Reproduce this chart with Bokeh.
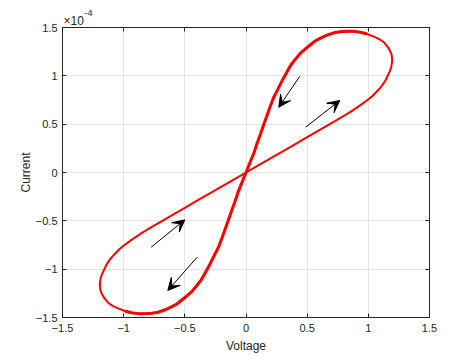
from bokeh.plotting import figure
from bokeh.models import (Range1d, LinearAxis, FixedTicker, Arrow, VeeHead,
                          ColumnDataSource, Title)
from bokeh.embed import file_html
from bokeh.resources import INLINE

# ---- data (voltage in V, current in units of 1e-4 A) ----
v_upper = [0.0, 0.1, 0.2, 0.3, 0.4, 0.5, 0.6, 0.677, 0.773, 0.854,
           0.936, 1.004, 1.038, 1.067, 1.097, 1.122, 1.143, 1.159, 1.175, 1.187,
           1.193, 1.195, 1.19, 1.176, 1.155, 1.127, 1.09, 1.045, 0.99, 0.936,
           0.88, 0.827, 0.77, 0.718, 0.66, 0.609, 0.565, 0.527, 0.486, 0.446,
           0.405, 0.364, 0.33, 0.296, 0.262, 0.227, 0.2, 0.173, 0.146, 0.119,
           0.09, 0.064, 0.03, 0.0]
i_upper = [0.0, 0.073, 0.146, 0.219, 0.292, 0.365, 0.438, 0.495, 0.565, 0.627,
           0.697, 0.760, 0.797, 0.835, 0.875, 0.917, 0.96, 1.003, 1.046, 1.089,
           1.132, 1.176, 1.22, 1.262, 1.305, 1.347, 1.38, 1.406, 1.433, 1.451,
           1.46, 1.461, 1.455, 1.445, 1.42, 1.39, 1.36, 1.322, 1.28, 1.235,
           1.175, 1.107, 1.03, 0.951, 0.865, 0.779, 0.69, 0.595, 0.50, 0.40,
           0.30, 0.2, 0.095, 0.0]
v_lower = [0.0, -0.1, -0.2, -0.3, -0.4, -0.5, -0.6, -0.677, -0.773, -0.854,
           -0.936, -1.004, -1.038, -1.067, -1.097, -1.122, -1.143, -1.159, -1.175, -1.187,
           -1.193, -1.195, -1.19, -1.176, -1.155, -1.127, -1.09, -1.045, -0.99, -0.936,
           -0.88, -0.827, -0.77, -0.718, -0.66, -0.609, -0.565, -0.527, -0.486, -0.446,
           -0.405, -0.364, -0.33, -0.296, -0.262, -0.227, -0.2, -0.173, -0.146, -0.119,
           -0.09, -0.064, -0.03, 0.0]
i_lower = [0.0, -0.073, -0.146, -0.219, -0.292, -0.365, -0.438, -0.495, -0.565, -0.627,
           -0.697, -0.760, -0.797, -0.835, -0.875, -0.917, -0.96, -1.003, -1.046, -1.089,
           -1.132, -1.176, -1.22, -1.262, -1.305, -1.347, -1.38, -1.406, -1.433, -1.451,
           -1.46, -1.461, -1.455, -1.445, -1.42, -1.39, -1.36, -1.322, -1.28, -1.235,
           -1.175, -1.107, -1.03, -0.951, -0.865, -0.779, -0.69, -0.595, -0.50, -0.40,
           -0.30, -0.2, -0.095, 0.0]
thick_from = 28  # the steep (ON-state) branch is drawn heavier

arrow_x0 = [0.44, 0.487, -0.775, -0.399]
arrow_y0 = [0.996, 0.468, -0.772, -0.876]
arrow_x1 = [0.268, 0.767, -0.50, -0.639]
arrow_y1 = [0.675, 0.745, -0.49, -1.22]

tick_values = [-1.5, -1.0, -0.5, 0.0, 0.5, 1.0, 1.5]

FONT = "Liberation Sans"
AX = "#262626"

p = figure(width=474, height=355, output_backend="svg", toolbar_location=None,
           x_range=Range1d(-1.5, 1.5), y_range=Range1d(-1.5, 1.5),
           min_border_left=62, min_border_right=45, min_border_top=27,
           min_border_bottom=38, background_fill_color="white",
           border_fill_color="white")
p.outline_line_color = AX
p.outline_line_width = 1

p.xaxis.ticker = FixedTicker(ticks=tick_values)
p.yaxis.ticker = FixedTicker(ticks=tick_values)
p.xaxis.axis_label = "Voltage"
p.yaxis.axis_label = "Current"
for ax in [p.xaxis[0], p.yaxis[0]]:
    ax.major_tick_in = 4
    ax.major_tick_out = 0
    ax.minor_tick_line_color = None
    ax.axis_line_color = AX
    ax.major_tick_line_color = AX
    ax.major_label_text_font = FONT
    ax.major_label_text_font_size = "11px"
    ax.major_label_text_color = AX
    ax.axis_label_text_font = FONT
    ax.axis_label_text_font_size = "12px"
    ax.axis_label_text_font_style = "normal"
    ax.axis_label_text_color = AX
p.xaxis.major_label_standoff = 6
p.xaxis.axis_label_standoff = 4
p.yaxis.major_label_standoff = 5
p.yaxis.axis_label_standoff = 0

p.add_layout(LinearAxis(ticker=FixedTicker(ticks=tick_values), major_tick_in=4,
                        major_tick_out=0, minor_tick_line_color=None,
                        axis_line_color=AX, major_tick_line_color=AX,
                        major_label_text_alpha=0, major_label_text_font_size="6px"),
             "right")
p.add_layout(LinearAxis(ticker=FixedTicker(ticks=tick_values), major_tick_in=4,
                        major_tick_out=0, minor_tick_line_color=None,
                        axis_line_color=AX, major_tick_line_color=AX,
                        major_label_text_alpha=0, major_label_text_font_size="0px",
                        major_label_standoff=0),
             "above")

p.xgrid.ticker = FixedTicker(ticks=tick_values)
p.ygrid.ticker = FixedTicker(ticks=tick_values)
p.grid.grid_line_color = "#e4e4e4"
p.grid.grid_line_width = 1

RED = "#ff0000"
p.line(v_upper, i_upper, line_color=RED, line_width=2, line_join="round")
p.line(v_lower, i_lower, line_color=RED, line_width=2, line_join="round")
p.line(v_upper[thick_from:], i_upper[thick_from:], line_color=RED, line_width=3,
       line_join="round")
p.line(v_lower[thick_from:], i_lower[thick_from:], line_color=RED, line_width=3,
       line_join="round")

asrc = ColumnDataSource(dict(x0=arrow_x0, y0=arrow_y0, x1=arrow_x1, y1=arrow_y1))
p.add_layout(Arrow(source=asrc, x_start="x0", y_start="y0", x_end="x1", y_end="y1",
                   line_color="black", line_width=1,
                   end=VeeHead(size=12, fill_color="black", line_color="black",
                               line_width=1)))

p.add_layout(Title(text="×10", align="left", offset=1, standoff=0,
                   text_font=FONT, text_font_size="12px", text_color=AX,
                   text_font_style="normal"), "above")
p.add_layout(Title(text="-4", align="left", offset=22, standoff=-8,
                   text_font=FONT, text_font_size="9px", text_color=AX,
                   text_font_style="normal"), "above")

open("out.html", "w").write(file_html(p, INLINE))
